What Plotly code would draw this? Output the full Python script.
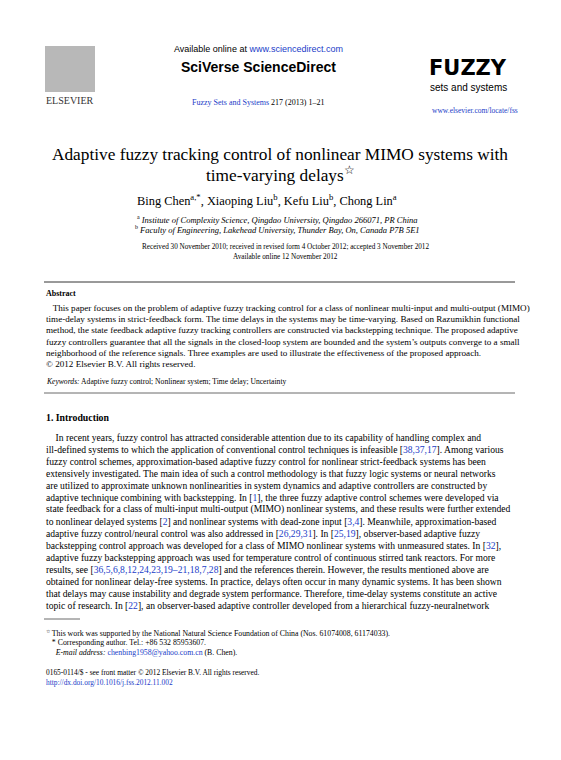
import re
import plotly.graph_objects as go

SERIF = "Liberation Serif"
BLUE = "#1a3cc8"

abstract_lines = [
    "   This paper focuses on the problem of adaptive fuzzy tracking control for a class of nonlinear multi-input and multi-output (MIMO)",
    "time-delay systems in strict-feedback form. The time delays in the systems may be time-varying. Based on Razumikhin functional",
    "method, the state feedback adaptive fuzzy tracking controllers are constructed via backstepping technique. The proposed adaptive",
    "fuzzy controllers guarantee that all the signals in the closed-loop system are bounded and the system’s outputs converge to a small",
    "neighborhood of the reference signals. Three examples are used to illustrate the effectiveness of the proposed approach.",
    "© 2012 Elsevier B.V. All rights reserved.",
]
intro_lines = [
    "    In recent years, fuzzy control has attracted considerable attention due to its capability of handling complex and",
    "ill-defined systems to which the application of conventional control techniques is infeasible [38,37,17]. Among various",
    "fuzzy control schemes, approximation-based adaptive fuzzy control for nonlinear strict-feedback systems has been",
    "extensively investigated. The main idea of such a control methodology is that fuzzy logic systems or neural networks",
    "are utilized to approximate unknown nonlinearities in system dynamics and adaptive controllers are constructed by",
    "adaptive technique combining with backstepping. In [1], the three fuzzy adaptive control schemes were developed via",
    "state feedback for a class of multi-input multi-output (MIMO) nonlinear systems, and these results were further extended",
    "to nonlinear delayed systems [2] and nonlinear systems with dead-zone input [3,4]. Meanwhile, approximation-based",
    "adaptive fuzzy control/neural control was also addressed in [26,29,31]. In [25,19], observer-based adaptive fuzzy",
    "backstepping control approach was developed for a class of MIMO nonlinear systems with unmeasured states. In [32],",
    "adaptive fuzzy backstepping approach was used for temperature control of continuous stirred tank reactors. For more",
    "results, see [36,5,6,8,12,24,23,19–21,18,7,28] and the references therein. However, the results mentioned above are",
    "obtained for nonlinear delay-free systems. In practice, delays often occur in many dynamic systems. It has been shown",
    "that delays may cause instability and degrade system performance. Therefore, time-delay systems constitute an active",
    "topic of research. In [22], an observer-based adaptive controller developed from a hierarchical fuzzy-neuralnetwork",
]
footnote_lines = [
    "<sup>☆</sup> This work was supported by the National Natural Science Foundation of China (Nos. 61074008, 61174033).",
    "   * Corresponding author. Tel.: +86 532 85953607.",
    "     <i>E-mail address:</i> <span style='color:#1a3cc8'>chenbing1958@yahoo.com.cn</span> (B. Chen).",
]

fig = go.Figure()
ann = []
def t(x, y, s, size=9, color="black", anchor="left", font=SERIF):
    ann.append(dict(x=x, y=y, text=s, showarrow=False, xanchor=anchor, yanchor="middle",
                    font=dict(family=font, size=size, color=color)))

def cite(s):
    return re.sub(r"\[([0-9,–]+)\]", lambda m: "[<span style='color:%s'>%s</span>]" % (BLUE, m.group(1)), s)

# header
t(258, 49, "Available online at <span style='color:%s'>www.sciencedirect.com</span>" % BLUE, 9, anchor="center", font="Liberation Sans")
t(258, 67, "<b>SciVerse ScienceDirect</b>", 14, anchor="center", font="Liberation Sans")
t(258, 102, "<span style='color:%s'>Fuzzy Sets and Systems</span> 217 (2013) 1–21" % BLUE, 8, anchor="center")
t(520, 110, "www.elsevier.com/locate/fss", 7.5, BLUE, anchor="right")
t(70, 100, "ELSEVIER", 10, "#333", anchor="center")
t(468, 68, "<b>FUZZY</b>", 21, anchor="center", font="DejaVu Sans")
t(468, 87, "sets and systems", 10, anchor="center", font="Liberation Sans")
# title
t(280, 154, "Adaptive fuzzy tracking control of nonlinear MIMO systems with", 17.3, anchor="center")
t(280, 174, "time-varying delays<sup>☆</sup>", 17.3, anchor="center")
t(267, 200, "Bing Chen<sup>a,*</sup>, Xiaoping Liu<sup>b</sup>, Kefu Liu<sup>b</sup>, Chong Lin<sup>a</sup>", 12.4, anchor="center")
t(277, 219, "<sup>a</sup> <i>Institute of Complexity Science, Qingdao University, Qingdao 266071, PR China</i>", 8.5, anchor="center")
t(277, 229, "<sup>b</sup> <i>Faculty of Engineering, Lakehead University, Thunder Bay, On, Canada P7B 5E1</i>", 8.5, anchor="center")
t(285, 247, "Received 30 November 2010; received in revised form 4 October 2012; accepted 3 November 2012", 7.2, anchor="center")
t(285, 257, "Available online 12 November 2012", 7.2, anchor="center")
t(44, 293, "<b>Abstract</b>", 8)
for i, s in enumerate(abstract_lines):
    t(44, 308 + 11.2 * i, s, 9.1)
t(44, 381, "<i>Keywords:</i> Adaptive fuzzy control; Nonlinear system; Time delay; Uncertainty", 7.6)
t(44, 417, "<b>1. Introduction</b>", 9.8)
for i, s in enumerate(intro_lines):
    t(44, 437 + 12.0 * i, cite(s), 9.6)
for i, s in enumerate(footnote_lines):
    t(44, 633 + 9.5 * i, s, 7.8)
t(44, 672, "0165-0114/$ - see front matter © 2012 Elsevier B.V. All rights reserved.", 7.4)
t(44, 682, "http://dx.doi.org/10.1016/j.fss.2012.11.002", 7.4, BLUE)

shapes = [
    dict(type="line", x0=44, x1=515, y0=282, y1=282, line=dict(color="black", width=0.8)),
    dict(type="line", x0=44, x1=515, y0=393, y1=393, line=dict(color="#444", width=0.8)),
    dict(type="line", x0=44, x1=80, y0=619, y1=619, line=dict(color="#444", width=0.8)),
    dict(type="rect", x0=45, x1=95, y0=46, y1=92, fillcolor="#9a9a9a", line=dict(width=0), opacity=0.7),
]
fig.update_layout(width=561, height=760, margin=dict(l=0, r=0, t=0, b=0),
                  paper_bgcolor="white", plot_bgcolor="white",
                  xaxis=dict(range=[8, 569], visible=False, fixedrange=True),
                  yaxis=dict(range=[768, 8], visible=False, fixedrange=True),
                  annotations=ann, shapes=shapes, showlegend=False)
fig.write_html("out.html")
